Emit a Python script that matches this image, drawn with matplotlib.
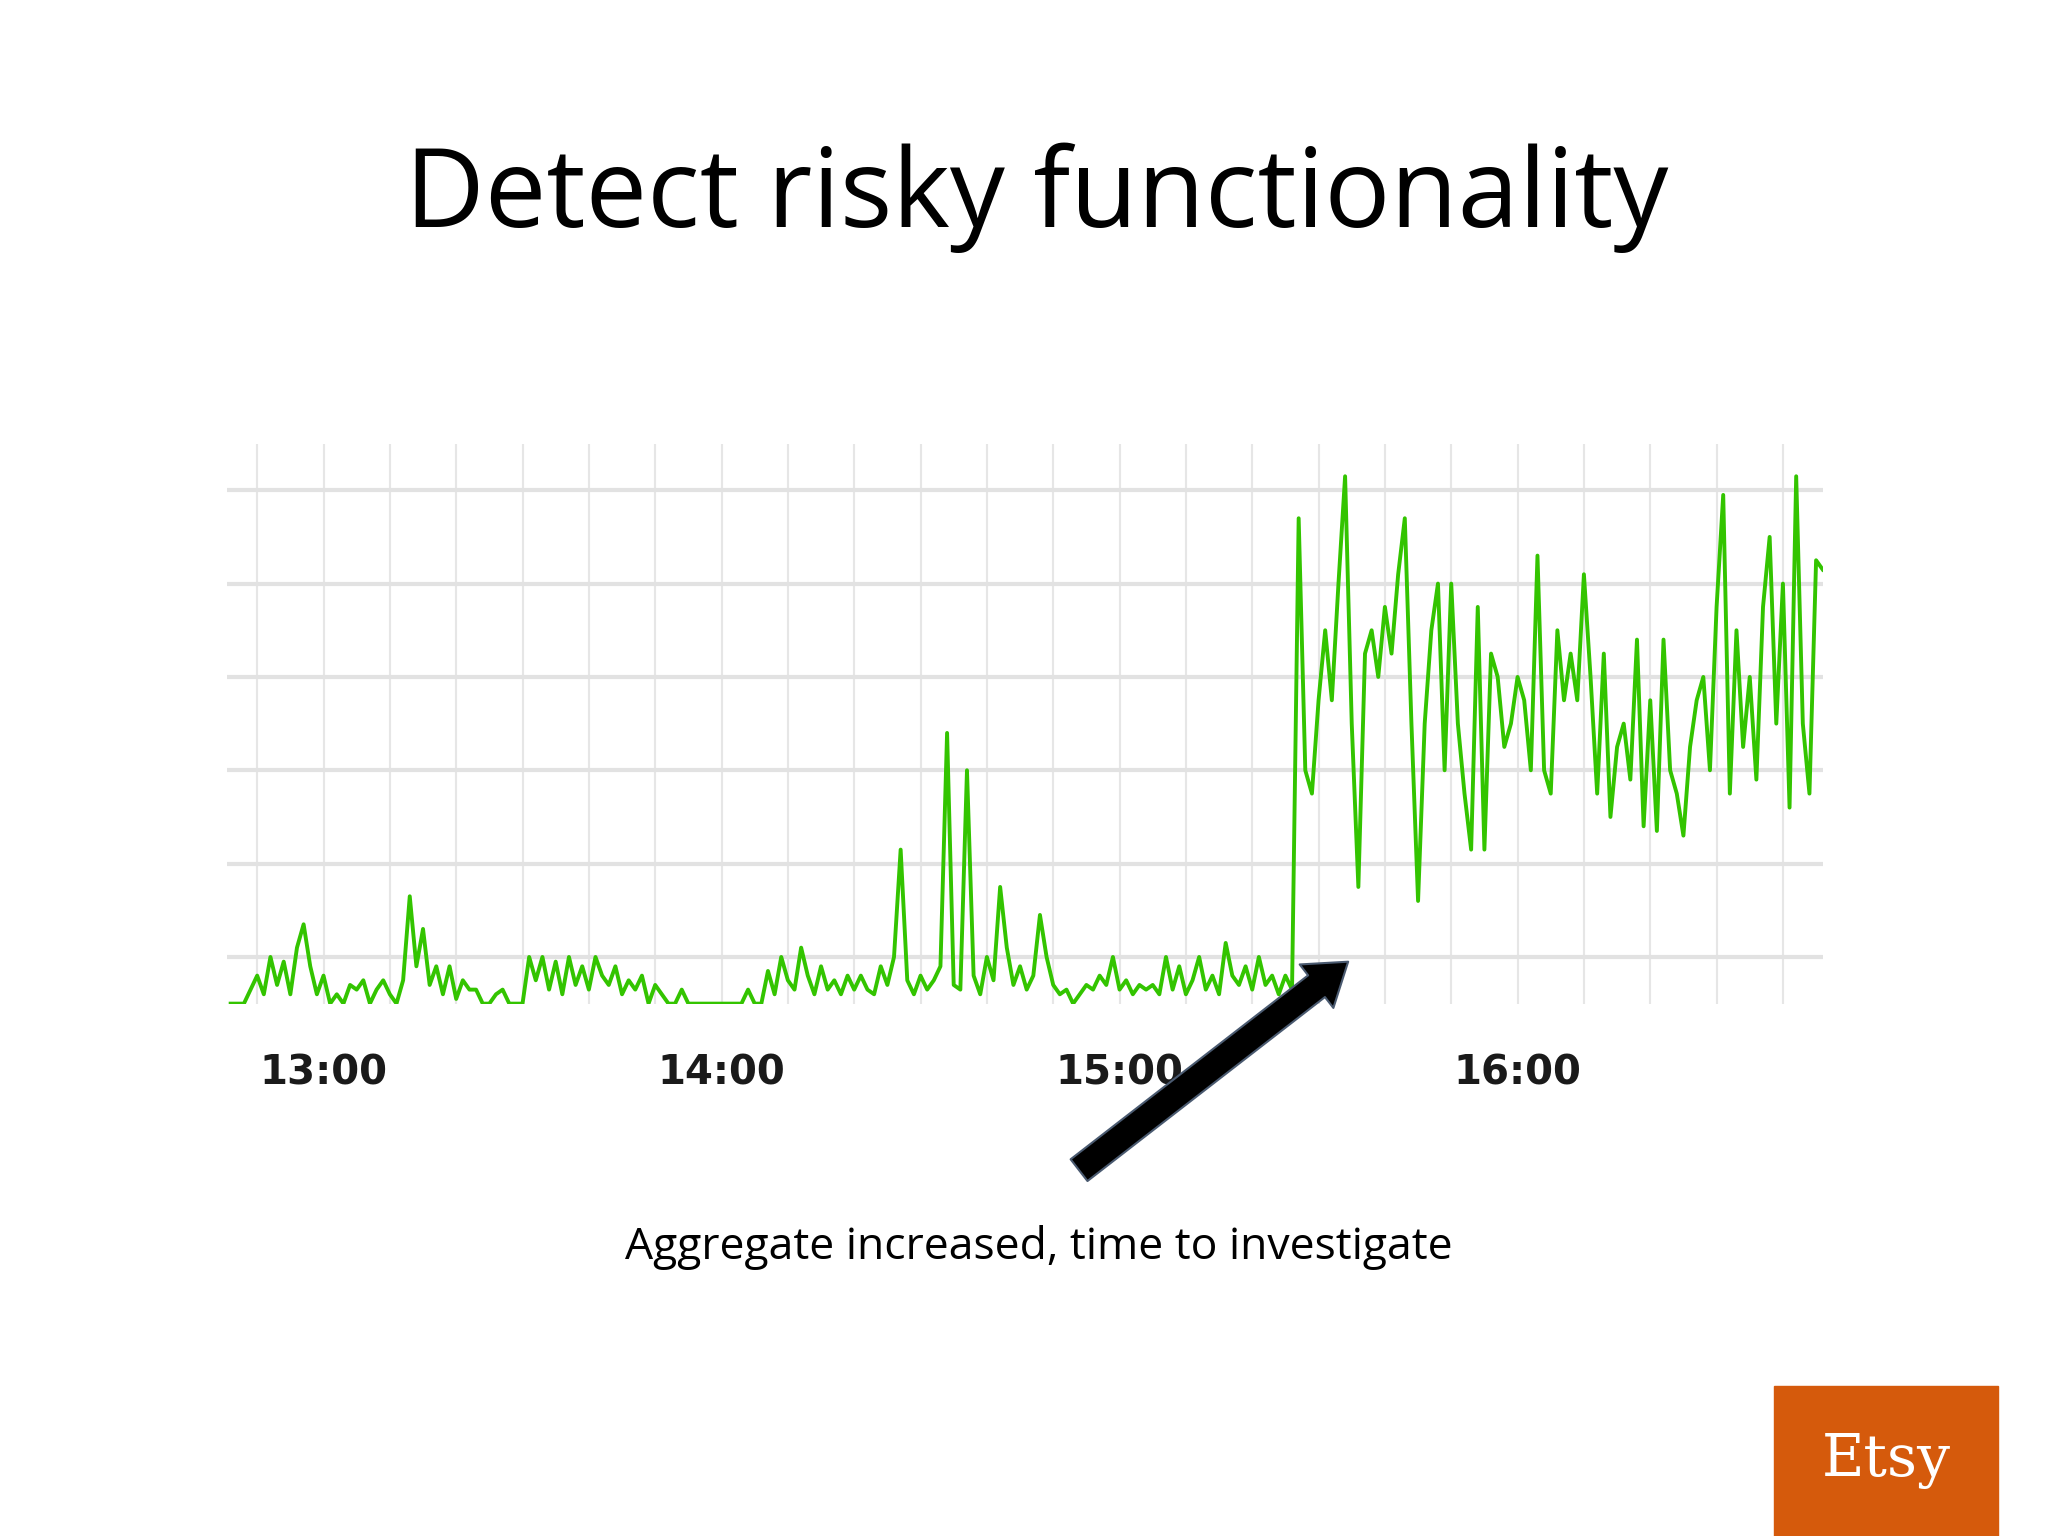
import numpy as np
import matplotlib.pyplot as plt
import matplotlib.patches as mpatches

# values per minute, 12:46 .. 16:46 (grid units: gridlines at 1,3,5,...)
start_min = -14  # minutes relative to 13:00
low = [0, 0, 0, 0.3, 0.6,
       0.2, 1.0, 0.4, 0.9, 0.2, 1.2, 1.7, 0.8, 0.2, 0.6,
       0, 0.2, 0, 0.4, 0.3, 0.5, 0, 0.3, 0.5, 0.2,
       0, 0.5, 2.3, 0.8, 1.6, 0.4, 0.8, 0.2, 0.8, 0.1,
       0.5, 0.3, 0.3, 0, 0, 0.2, 0.3, 0, 0, 0,
       1.0, 0.5, 1.0, 0.3, 0.9, 0.2, 1.0, 0.4, 0.8, 0.3,
       1.0, 0.6, 0.4, 0.8, 0.2, 0.5, 0.3, 0.6, 0, 0.4,
       0.2, 0, 0, 0.3, 0, 0, 0, 0, 0, 0,
       0, 0, 0, 0.3, 0, 0, 0.7, 0.2, 1.0, 0.5,
       0.3, 1.2, 0.6, 0.2, 0.8, 0.3, 0.5, 0.2, 0.6, 0.3,
       0.6, 0.3, 0.2, 0.8, 0.4, 1.0, 3.3, 0.5, 0.2, 0.6,
       0.3, 0.5, 0.8, 5.8, 0.4, 0.3, 5.0, 0.6, 0.2, 1.0,
       0.5, 2.5, 1.2, 0.4, 0.8, 0.3, 0.6, 1.9, 1.0, 0.4,
       0.2, 0.3, 0, 0.2, 0.4, 0.3, 0.6, 0.4, 1.0, 0.3,
       0.5, 0.2, 0.4, 0.3, 0.4, 0.2, 1.0, 0.3, 0.8, 0.2,
       0.5, 1.0, 0.3, 0.6, 0.2, 1.3, 0.6, 0.4, 0.8, 0.3,
       1.0, 0.4, 0.6, 0.2, 0.6, 0.3]
high = [10.4, 5.0, 4.5, 6.5,
        8.0, 6.5, 9.0, 11.3, 6.0, 2.5, 7.5, 8.0, 7.0, 8.5,
        7.5, 9.2, 10.4, 6.0, 2.2, 6.0, 8.0, 9.0, 5.0, 9.0,
        6.0, 4.5, 3.3, 8.5, 3.3, 7.5, 7.0, 5.5, 6.0, 7.0,
        6.5, 5.0, 9.6, 5.0, 4.5, 8.0, 6.5, 7.5, 6.5, 9.2,
        7.0, 4.5, 7.5, 4.0, 5.5, 6.0, 4.8, 7.8, 3.8, 6.5,
        3.7, 7.8, 5.0, 4.5, 3.6, 5.5, 6.5, 7.0, 5.0, 8.5,
        10.9, 4.5, 8.0, 5.5, 7.0, 4.8, 8.5, 10.0, 6.0, 9.0,
        4.2, 11.3, 6.0, 4.5, 9.5, 9.3]
values = low + high
minutes = np.arange(len(values)) + start_min

hour_ticks = [0, 60, 120, 180]
hour_labels = ['13:00', '14:00', '15:00', '16:00']

fig = plt.figure(figsize=(20.48, 15.36), dpi=100)
fig.patch.set_facecolor('white')

fig.text(0.506, 0.871, 'Detect risky functionality', ha='center', va='center',
         fontsize=79, family='Open Sans', color='black')

ax = fig.add_axes([0.111, 0.3466, 0.779, 0.3646])
ax.plot(minutes, values, color='#33c400', lw=2.8)
ax.set_xlim(-14.5, 226)
ax.set_ylim(0, 12)
ax.set_yticks([1, 3, 5, 7, 9, 11])
ax.set_xticks(hour_ticks)
ax.set_xticks(np.arange(-10, 221, 10), minor=True)
ax.set_xticklabels(hour_labels, fontsize=29, color='#1a1a1a', family='DejaVu Sans',
                   weight='semibold')
ax.tick_params(axis='both', length=0, which='both')
ax.tick_params(axis='x', pad=36)
ax.set_yticklabels([])
ax.grid(axis='y', color='#e2e2e2', lw=3)
ax.grid(axis='x', which='both', color='#e6e6e6', lw=1.5)
ax.set_axisbelow(True)
for s in ax.spines.values():
    s.set_visible(False)

# arrow
arr = mpatches.FancyArrowPatch((815 / 1550, 1 - 885 / 1160), (1022 / 1550, 1 - 725 / 1160),
                               transform=fig.transFigure, arrowstyle='simple,head_width=2.2,head_length=1.6,tail_width=1.1',
                               mutation_scale=18, color='black', ec='#4a5a70', lw=1.5)
fig.add_artist(arr)

fig.text(0.507, 1 - 942 / 1160, 'Aggregate increased, time to investigate', ha='center', va='center',
         fontsize=32, family='Open Sans', color='black')

# Etsy logo
logo = mpatches.Rectangle((1343 / 1550, 0), (1512 - 1343) / 1550, (1160 - 1047) / 1160,
                          transform=fig.transFigure, color='#d55a0c')
fig.add_artist(logo)
fig.text(1428 / 1550, 1 - 1103 / 1160, 'Etsy', ha='center', va='center', fontsize=42,
         family='DejaVu Serif', color='white')

fig.savefig('out.png', dpi=100)
